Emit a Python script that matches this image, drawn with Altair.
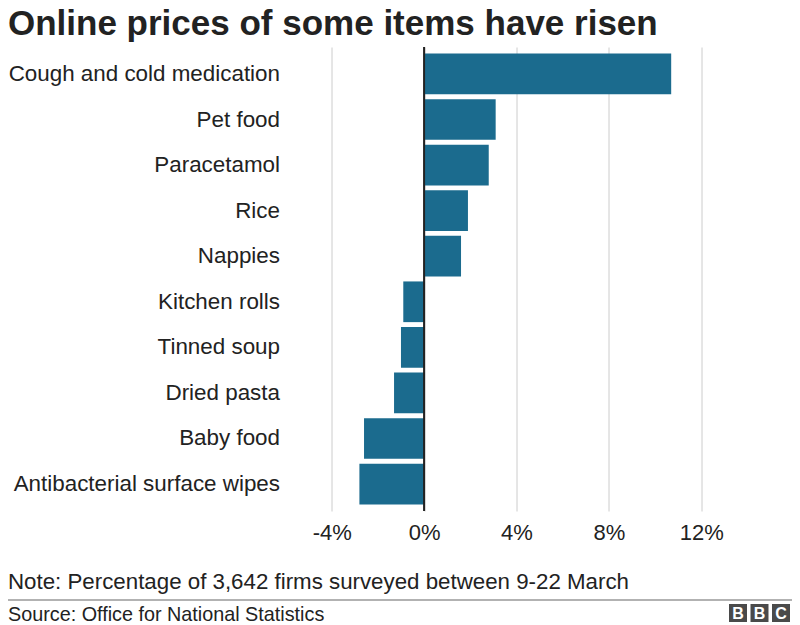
import altair as alt
import pandas as pd

items = [
    "Cough and cold medication",
    "Pet food",
    "Paracetamol",
    "Rice",
    "Nappies",
    "Kitchen rolls",
    "Tinned soup",
    "Dried pasta",
    "Baby food",
    "Antibacterial surface wipes",
]
changes = [10.7, 3.1, 2.8, 1.9, 1.6, -0.9, -1.0, -1.3, -2.6, -2.8]
x_ticks = [-4, 0, 4, 8, 12]
title_text = "Online prices of some items have risen"
note_text = "Note: Percentage of 3,642 firms surveyed between 9-22 March"
source_text = "Source: Office for National Statistics"
logo_letters = ["B", "B", "C"]

FONT = "Liberation Sans"
TEXT = "#222222"
BAR = "#1b6b8e"

df = pd.DataFrame({"item": items, "change": changes})

x_scale = alt.Scale(domain=[-6, 15], nice=False, zero=False)
y_scale = alt.Scale(domain=items, paddingInner=0.107, paddingOuter=0.145)

bars = alt.Chart(df).mark_bar(color=BAR).encode(
    x=alt.X(
        "change:Q",
        scale=x_scale,
        axis=alt.Axis(
            values=x_ticks,
            labelExpr="datum.value + '%'",
            title=None,
            grid=True,
            gridColor="#cccccc",
            gridWidth=1,
            domain=False,
            ticks=False,
            labelFontSize=22,
            labelPadding=11,
            labelColor=TEXT,
            labelFont=FONT,
        ),
    ),
    y=alt.Y(
        "item:N",
        scale=y_scale,
        sort=items,
        axis=alt.Axis(
            title=None,
            domain=False,
            ticks=False,
            grid=False,
            labelFontSize=22.4,
            labelPadding=6,
            labelColor=TEXT,
            labelFont=FONT,
            labelLimit=400,
        ),
    ),
)

zero_line = alt.Chart(pd.DataFrame({"v": [0]})).mark_rule(
    color=TEXT, strokeWidth=2
).encode(x=alt.X("v:Q", scale=x_scale))

title = alt.Chart(pd.DataFrame({"t": [title_text]})).mark_text(
    align="left", baseline="alphabetic", fontSize=35, fontWeight="bold",
    font=FONT, color=TEXT
).encode(x=alt.value(-277.5), y=alt.value(-12.5), text="t:N")

note = alt.Chart(pd.DataFrame({"t": [note_text]})).mark_text(
    align="left", baseline="alphabetic", fontSize=22.3, font=FONT, color=TEXT
).encode(x=alt.value(-277.5), y=alt.value(542.3), text="t:N")

separator = alt.Chart(pd.DataFrame({"a": [0]})).mark_rule(
    color="#999999", strokeWidth=1.5
).encode(x=alt.value(-277.5), x2=alt.value(506.5), y=alt.value(553))

source = alt.Chart(pd.DataFrame({"t": [source_text]})).mark_text(
    align="left", baseline="alphabetic", fontSize=19.8, font=FONT, color=TEXT
).encode(x=alt.value(-277.5), y=alt.value(573.7), text="t:N")

logo_layers = []
for i, letter in enumerate(logo_letters):
    cx = 452.5 + i * 21.5
    logo_layers.append(
        alt.Chart(pd.DataFrame({"t": [letter]})).mark_rect(color="#4a4a4a").encode(
            x=alt.value(cx - 9), x2=alt.value(cx + 9),
            y=alt.value(557), y2=alt.value(575)
        )
    )
    logo_layers.append(
        alt.Chart(pd.DataFrame({"t": [letter]})).mark_text(
            align="center", baseline="middle", fontSize=16, fontWeight="bold",
            font=FONT, color="white"
        ).encode(x=alt.value(cx), y=alt.value(566.5), text="t:N")
    )

chart = alt.layer(
    bars, zero_line, title, note, separator, source, *logo_layers
).properties(
    width=485,
    height=464,
    padding={"left": 277.5, "top": 39, "right": 21.5, "bottom": 114},
    autosize=alt.AutoSizeParams(type="none"),
    background="white",
).configure_view(stroke=None)

chart.save("out.html", embed_options={"renderer": "svg", "actions": False})
